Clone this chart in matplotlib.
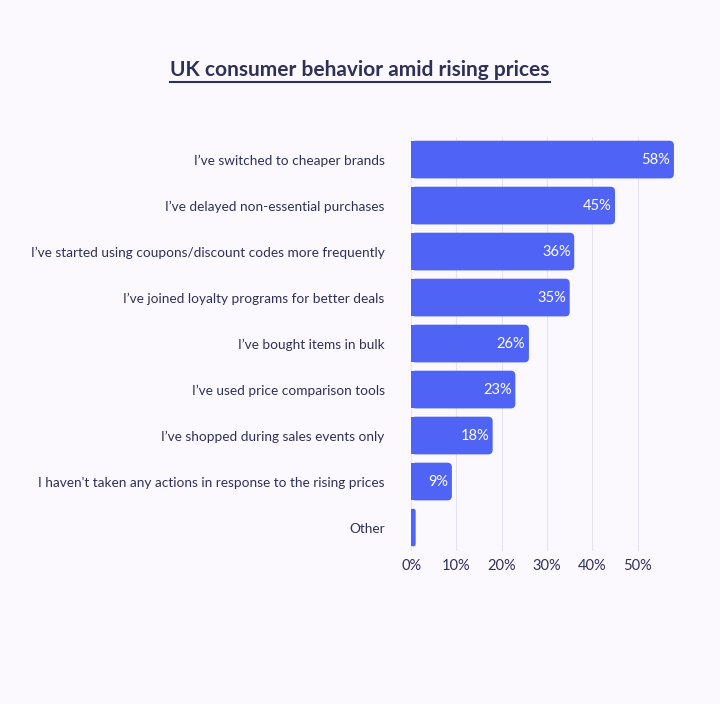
import matplotlib
matplotlib.use("Agg")
import matplotlib.pyplot as plt
from matplotlib.patches import FancyBboxPatch
from matplotlib.lines import Line2D

categories = ["I\u2019ve switched to cheaper brands",
              "I\u2019ve delayed non-essential purchases",
              "I\u2019ve started using coupons/discount codes more frequently",
              "I\u2019ve joined loyalty programs for better deals",
              "I\u2019ve bought items in bulk",
              "I\u2019ve used price comparison tools",
              "I\u2019ve shopped during sales events only",
              "I haven't taken any actions in response to the rising prices",
              "Other"]
values = [58, 45, 36, 35, 26, 23, 18, 9, 1]
labels = ["58%", "45%", "36%", "35%", "26%", "23%", "18%", "9%", ""]
ticks = [0, 10, 20, 30, 40, 50]

bg = "#FBF9FE"
blue = "#4F63F5"
navy = "#2E3157"
plt.rcParams['font.family'] = ['Lato', 'DejaVu Sans']

fig = plt.figure(figsize=(7.2, 7.04), dpi=100, facecolor=bg)
ax = fig.add_axes([0.571, 0.218, 0.365, 0.588], facecolor=bg)
n = len(categories)
ax.set_xlim(0, 58)
ax.set_ylim(n - 0.5, -0.5)
h = 0.82
r = 1.0
asp = (1 / 46) / (58 / 263)
for i, v in enumerate(values):
    rr = min(r, v / 2)
    ax.barh(i, max(v - rr, 0), height=h, color=blue, zorder=2)
    ax.add_patch(FancyBboxPatch((0, i - h / 2), v, h,
                                boxstyle=f"round,pad=0,rounding_size={rr}",
                                mutation_aspect=asp, fc=blue, ec="none", zorder=2))
    if labels[i]:
        ax.text(v - 0.8, i, labels[i], ha="right", va="center", color="white", fontsize=10.5, zorder=3)
ax.set_yticks(range(n))
ax.set_yticklabels(categories, fontsize=9.8, color=navy)
ax.set_xticks(ticks)
ax.set_xticklabels([f"{t}%" for t in ticks], fontsize=10.5, color=navy)
ax.tick_params(length=0, pad=6)
ax.tick_params(axis='y', pad=19)
ax.grid(axis='x', color="#E6E4EE", lw=0.8, zorder=0)
for s in ax.spines.values():
    s.set_visible(False)

t = fig.text(0.5, 0.9, "UK consumer behavior amid rising prices", ha="center", va="center",
             fontsize=15, fontweight="bold", color=navy)
fig.canvas.draw()
bb = t.get_window_extent().transformed(fig.transFigure.inverted())
fig.add_artist(Line2D([bb.x0, bb.x1], [bb.y0 - 0.002, bb.y0 - 0.002], color=navy, lw=1.5))
fig.savefig("out.png", facecolor=bg)
